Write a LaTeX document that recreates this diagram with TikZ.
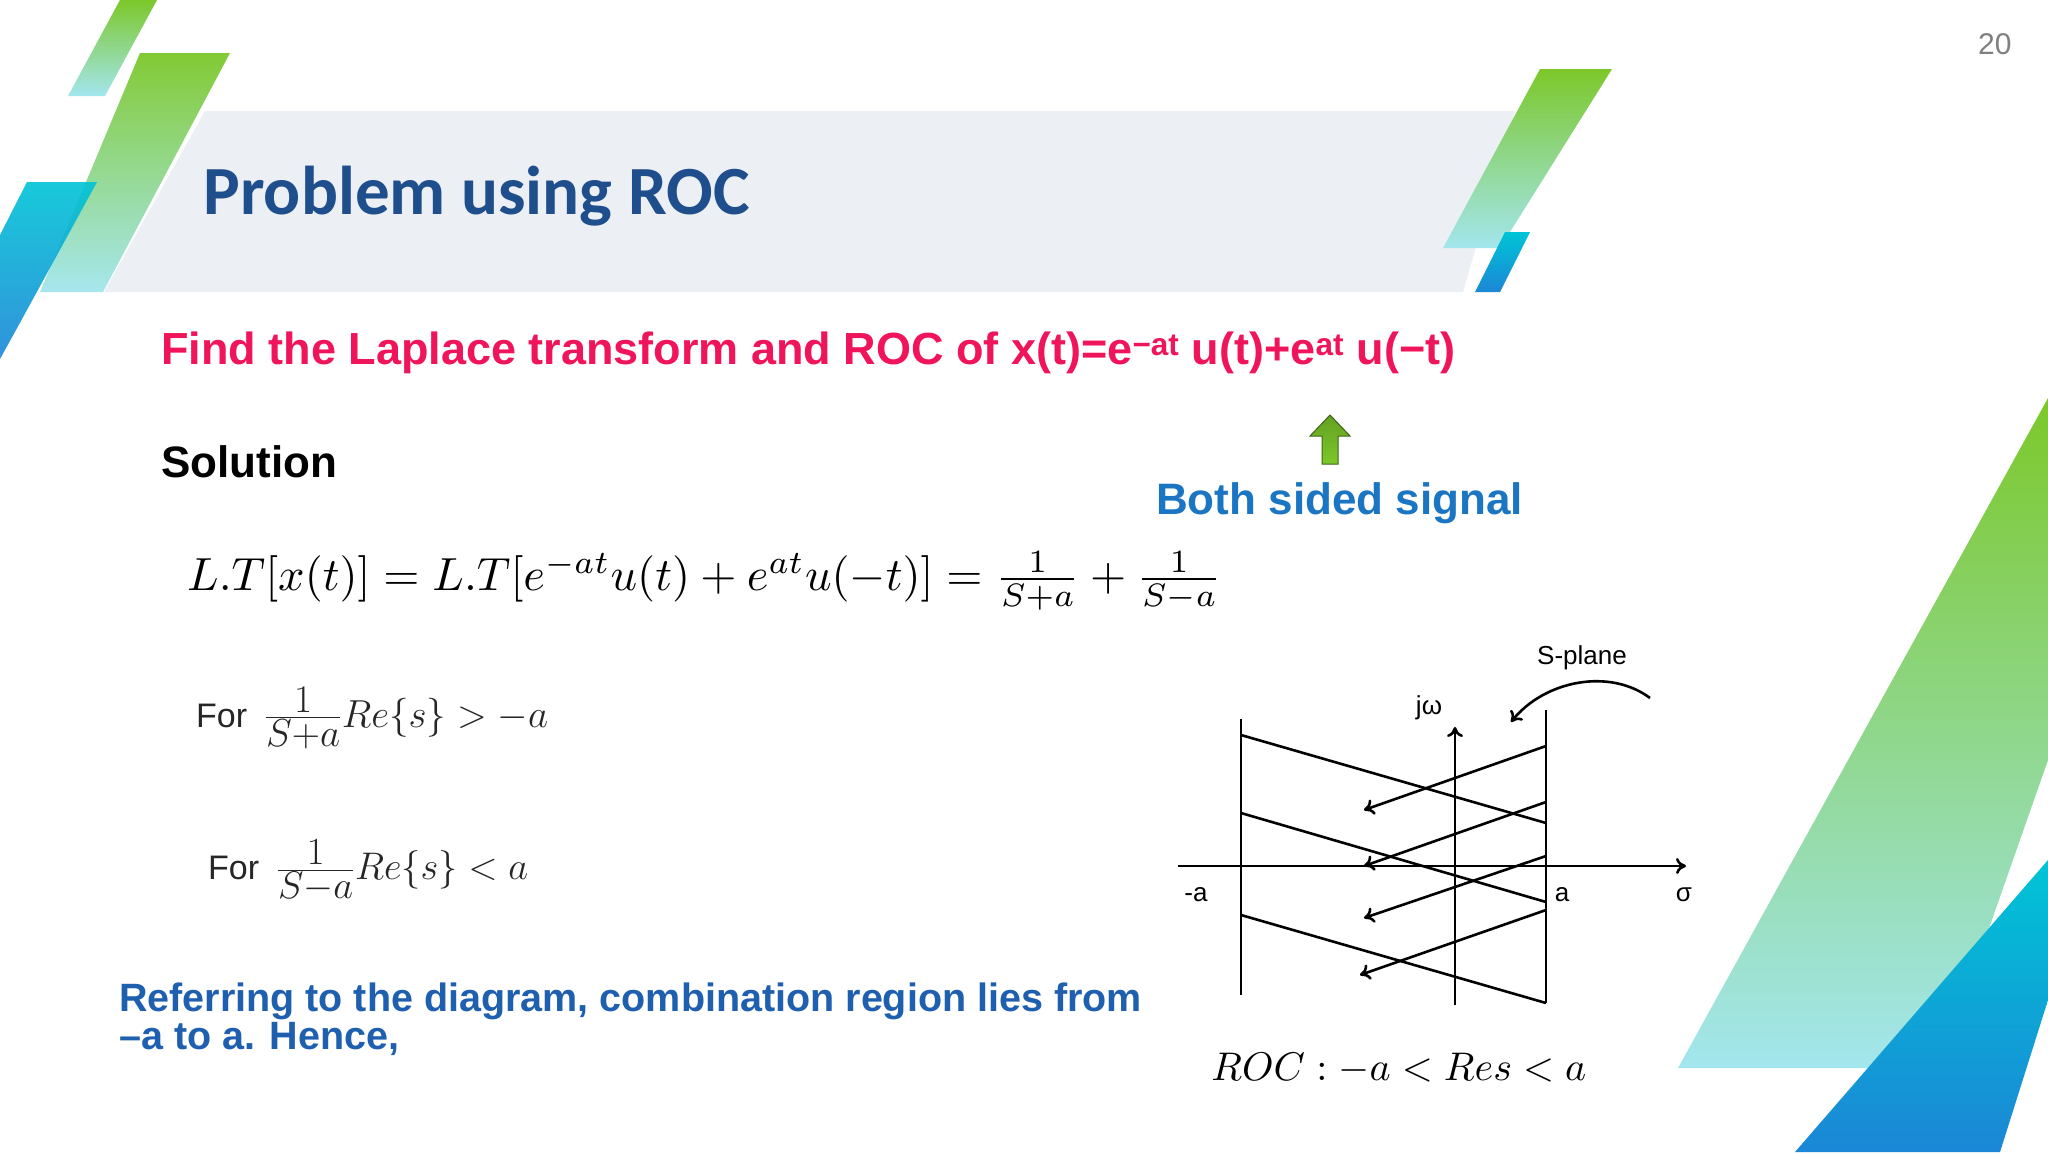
\documentclass[tikz,border=0pt]{standalone}
\usepackage{amsmath}
\usepackage{fontspec}
\setmainfont{Liberation Sans}
\newfontfamily\titlefont{Carlito}
\usetikzlibrary{arrows.meta}
\definecolor{navy}{HTML}{1F4E8C}
\definecolor{qred}{HTML}{F0145A}
\definecolor{sblue}{HTML}{1A75C2}
\definecolor{bblue}{HTML}{1F5FAF}
\definecolor{gband}{HTML}{ECF0F5}
\definecolor{lgreen}{HTML}{7CC82A}
\definecolor{lcyan}{HTML}{A3E6EE}
\definecolor{cyanb}{HTML}{00C4D6}
\definecolor{blueb}{HTML}{1B87D6}
\tikzset{
  axis/.style={line width=2.6pt,-{To[length=10pt,width=16pt]}},
  ln/.style={line width=2.6pt},
  arr/.style={line width=2.6pt,-{To[length=10pt,width=16pt]}},
  lbl/.style={font=\fontsize{26}{30}\selectfont,inner sep=0pt},
}
\begin{document}
\begin{tikzpicture}[x=1pt,y=-1pt]
\useasboundingbox (0,0) rectangle (2048,1152);
\fill[white] (0,0) rectangle (2048,1152);
% band
\fill[gband] (205,111) -- (1515,111) -- (1463,292) -- (104,292) -- cycle;
% decorations
\shade[top color=lgreen,bottom color=lcyan] (120,0) -- (157,0) -- (105,96) -- (68,96) -- cycle;
\shade[top color=lgreen,bottom color=lcyan,opacity=0.95] (140,53) -- (230,53) -- (103,292) -- (40,292) -- cycle;
\shade[top color=cyanb,bottom color=blueb,opacity=0.9] (27,182) -- (97,182) -- (16,330) -- (0,359) -- (0,235) -- cycle;
\shade[top color=lgreen,bottom color=lcyan] (1540,69) -- (1612,69) -- (1500,248) -- (1443,248) -- cycle;
\shade[top color=cyanb,bottom color=blueb] (1505,232) -- (1530,232) -- (1500,292) -- (1475,292) -- cycle;
\shade[top color=lgreen,bottom color=lcyan] (2048,398) -- (2048,760) -- (1940,1068) -- (1678,1068) -- cycle;
\shade[top color=cyanb,bottom color=blueb] (2048,860) -- (2048,1000) -- (2000,1152) -- (1795,1152) -- cycle;
% texts
\node[anchor=east,text=gray,font=\fontsize{30}{34}\selectfont] (pg) at (2015,44) {20};
\node[anchor=west,text=navy,font=\titlefont\bfseries\fontsize{69}{78}\selectfont] (title) at (200,196) {Problem using ROC};
\node[anchor=west,text=qred,font=\bfseries\fontsize{45}{52}\selectfont,inner sep=0pt] (q) at (161,353)
  {Find the Laplace transform and ROC of x(t)=e\textsuperscript{−at} u(t)+e\textsuperscript{at} u(−t)};
\node[anchor=west,font=\bfseries\fontsize{44}{50}\selectfont,inner sep=0pt] (sol) at (161,462) {Solution};
\node[anchor=west,text=sblue,font=\bfseries\fontsize{44}{50}\selectfont,inner sep=0pt] (both) at (1156,503) {Both sided signal};
% green arrow
\shade[top color=lgreen!80!black,bottom color=lgreen,draw=lgreen!50!black,line width=1pt]
  (1330,415) -- (1350,436) -- (1338,436) -- (1338,464) -- (1322,464) -- (1322,436) -- (1310,436) -- cycle;
% equation
\node[anchor=west,inner sep=0pt] (eq) at (187,581)
  {\resizebox{1034pt}{!}{$L.T[x(t)] = L.T[e^{-at}u(t)+e^{at}u(-t)] = \tfrac{1}{S+a}+\tfrac{1}{S-a}$}};
\node[anchor=west,inner sep=0pt,font=\fontsize{34}{40}\selectfont,text=black!85] (f1) at (196,718)
  {For\enspace\resizebox{284pt}{!}{$\tfrac{1}{S+a}Re\{s\}>-a$}};
\node[anchor=west,inner sep=0pt,font=\fontsize{34}{40}\selectfont,text=black!85] (f2) at (208,871)
  {For\enspace\resizebox{252pt}{!}{$\tfrac{1}{S-a}Re\{s\}<a$}};
\node[anchor=north west,align=left,text=bblue,font=\bfseries\fontsize{39.5}{38}\selectfont,inner sep=0pt] (ref) at (119,983)
  {Referring to the diagram, combination region lies from\\–a to a. Hence,};
\node[inner sep=0pt] (roc) at (1399,1068) {\resizebox{375pt}{!}{$ROC: -a<Res<a$}};
% diagram
\coordinate (hx0) at (1178,866); \coordinate (hx1) at (1686,866);
\coordinate (jw0) at (1455,1005); \coordinate (jw1) at (1455,727);
\draw[axis] (hx0) -- (hx1);
\draw[axis] (jw0) -- (jw1);
\coordinate (l0) at (1241,719); \coordinate (l1) at (1241,995);
\coordinate (r0) at (1546,710); \coordinate (r1) at (1546,1003);
\draw[ln] (l0) -- (l1);
\draw[ln] (r0) -- (r1);
\coordinate (a1) at (1241,735); \coordinate (b1) at (1546,823);
\coordinate (a2) at (1241,813); \coordinate (b2) at (1546,902);
\coordinate (a3) at (1241,915); \coordinate (b3) at (1546,1003);
\draw[ln] (a1) -- (b1); \draw[ln] (a2) -- (b2); \draw[ln] (a3) -- (b3);
\coordinate (c1) at (1546,746); \coordinate (d1) at (1364,810);
\coordinate (c2) at (1546,802); \coordinate (d2) at (1364,866);
\coordinate (c3) at (1546,856); \coordinate (d3) at (1364,918);
\coordinate (c4) at (1546,910); \coordinate (d4) at (1360,975);
\draw[arr] (c1) -- (d1); \draw[arr] (c2) -- (d2); \draw[arr] (c3) -- (d3); \draw[arr] (c4) -- (d4);
\node[lbl] (sp) at (1582,658) {S-plane};
\coordinate (s0) at (1650,698); \coordinate (s1) at (1511,722);
\draw[arr] (s0) .. controls (1610,668) and (1545,680) .. (s1);
\node[lbl] (jw) at (1429,708) {jω};
\node[lbl] (ma) at (1196,895) {-a};
\node[lbl] (pa) at (1562,895) {a};
\node[lbl] (sig) at (1684,895) {σ};
\end{tikzpicture}
\end{document}
